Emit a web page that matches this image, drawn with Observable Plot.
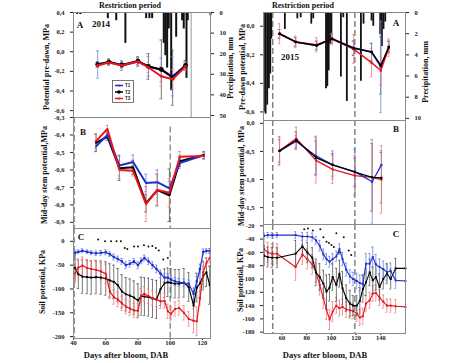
<!DOCTYPE html>
<html><head><meta charset="utf-8">
<script src="https://cdn.jsdelivr.net/npm/d3@7"></script>
<script src="https://cdn.jsdelivr.net/npm/@observablehq/plot@0.6"></script>
<style>
body{margin:0;background:#fff;}
#root{position:relative;width:474px;height:363px;overflow:hidden;font-family:"Liberation Serif",serif;font-weight:bold;color:#111;}
.t{position:absolute;white-space:nowrap;transform:translate(-50%,-50%);line-height:1;}
</style></head>
<body><div id="root"></div>
<script>
// ---------- 2014 (left column) ----------
const days14A = [55, 62, 70, 80, 86.5, 94.5, 101.5, 109.5];
const pd14T1 = [-0.13, -0.105, -0.14, -0.10, -0.15, -0.185, -0.25, -0.14];
const pd14T2 = [-0.13, -0.105, -0.135, -0.095, -0.15, -0.18, -0.265, -0.14];
const pd14T3 = [-0.14, -0.11, -0.14, -0.10, -0.16, -0.25, -0.28, -0.15];
const pd14E1 = [0.14, 0.03, 0.05, 0.05, 0.10, 0.12, 0.20, 0.04];
const pd14E2 = [0.03, 0.03, 0.03, 0.04, 0.13, 0.30, 0.28, 0.05];
const pd14E3 = [0.02, 0.02, 0.02, 0.03, 0.05, 0.10, 0.10, 0.04];

const rain14Day = [42.3, 44.3, 61.3, 66.5, 72.2, 85.1, 87.1, 88.8, 96, 97, 98.1, 99.1, 100.6, 103.7, 107.4, 108.4, 110.1, 110.9, 125];
const rain14mm  = [1, 1, 3, 4, 15, 3, 3, 3, 15, 21, 27, 8, 38, 12, 4, 8, 32, 4, 1.5];

const days14B = [54, 61, 68.5, 77, 85, 92, 99.5, 106, 121];
const md14T1 = [-0.465, -0.40, -0.575, -0.555, -0.675, -0.67, -0.705, -0.56, -0.515];
const md14T2 = [-0.445, -0.41, -0.59, -0.585, -0.79, -0.715, -0.745, -0.55, -0.515];
const md14T3 = [-0.435, -0.365, -0.60, -0.605, -0.795, -0.715, -0.73, -0.525, -0.52];
const md14E1 = [0.03, 0.02, 0.06, 0.04, 0.05, 0.07, 0.04, 0.03, 0.02];
const md14E2 = [0.05, 0.02, 0.07, 0.04, 0.05, 0.09, 0.15, 0.03, 0.02];
const md14E3 = [0.04, 0.02, 0.05, 0.03, 0.10, 0.09, 0.08, 0.03, 0.02];

const days14C = [41, 43, 45.5, 48.5, 51, 54, 57, 60, 62.5, 65, 67.5, 70, 72.5, 75, 77.5, 80, 82, 84, 86.5, 89, 91.5, 94, 96.5, 98.5, 100.5, 103, 105.5, 108.5, 111.5, 114.5, 116.5, 118.5, 120.5, 122.5, 124.5];
const sp14T1 = [-24, -22, -20, -22, -24, -25, -24, -23, -27, -33, -37, -42, -50, -47, -42, -50, -41, -35, -42, -50, -58, -68, -76, -76, -80, -84, -86, -87, -89, -110, -84, -58, -22, -20, -20];
const sp14T2 = [-56, -69, -74, -75, -76, -75, -76, -78, -82, -85, -92, -105, -111, -114, -118, -124, -115, -116, -117, -120, -122, -100, -88, -86, -87, -89, -89, -87, -96, -135, -97, -88, -72, -65, -92];
const sp14T3 = [-67, -55, -51, -56, -58, -60, -63, -68, -105, -117, -122, -130, -137, -141, -145, -146, -114, -110, -115, -119, -122, -126, -125, -147, -152, -142, -140, -150, -163, -167, -168, -120, -65, -45, -35];
const sp14E1 = [5, 4, 4, 4, 4, 5, 5, 5, 5, 6, 6, 6, 7, 7, 6, 7, 6, 6, 7, 7, 8, 8, 8, 8, 8, 8, 8, 8, 8, 12, 10, 10, 6, 5, 5];
const sp14E2 = [28, 30, 35, 35, 35, 35, 35, 35, 35, 35, 35, 35, 35, 35, 35, 35, 40, 40, 40, 40, 40, 35, 30, 30, 30, 30, 30, 30, 30, 30, 30, 30, 30, 30, 40];
const sp14E3 = [20, 18, 18, 18, 18, 18, 18, 20, 15, 15, 15, 15, 15, 15, 15, 15, 15, 15, 15, 15, 15, 15, 15, 15, 15, 15, 15, 15, 15, 25, 30, 15, 12, 10, 10];
const star14Day = [55.3, 59.6, 63.3, 66.7, 69.4, 71.8, 73.4, 77.6, 80, 83.7, 86.5, 88.9, 91.1, 92.9, 95.7, 98.5];
const star14Val = [4, 0, 0, 0, 0, -14, -16, -11, -11, -8, -11, -10, -14, -19, -38, -35];

// ---------- 2015 (right column) ----------
const days15A = [58, 71, 88, 100.5, 118, 132.5, 140, 146.5];
const pd15T1 = [-0.053, -0.11, -0.135, -0.088, -0.15, -0.18, -0.285, -0.145];
const pd15T2 = [-0.053, -0.11, -0.135, -0.088, -0.155, -0.18, -0.275, -0.145];
const pd15T3 = [-0.053, -0.11, -0.13, -0.09, -0.16, -0.255, -0.31, -0.15];
const pd15E1 = [0.03, 0.03, 0.03, 0.03, 0.05, 0.06, 0.32, 0.04];
const pd15E2 = [0.03, 0.03, 0.03, 0.03, 0.05, 0.06, 0.20, 0.04];
const pd15E3 = [0.07, 0.04, 0.05, 0.04, 0.10, 0.10, 0.10, 0.06];

const rain15Day = [45.3, 46.7, 48, 49.4, 50.5, 51.3, 62.3, 72.4, 75.1, 83.7, 85.3, 95.6, 96.7, 97.8, 98.9, 100, 107.7, 109.6, 112.5, 123.9, 126, 132.5, 133.9, 139.5, 140.9, 142.2, 143.6];
const rain15mm  = [9.4, 9.6, 8.75, 7.2, 5.8, 2.5, 1.6, 0.6, 0.5, 1.1, 0.6, 7.2, 7.0, 5.5, 3.0, 2.1, 6.1, 0.5, 8.4, 6.5, 1.1, 0.8, 1.3, 2.1, 3.2, 1.6, 0.9];

const days15B = [58, 71.5, 87.5, 101, 119, 133, 140.5];
const md15T1 = [-0.49, -0.32, -0.58, -0.74, -0.86, -1.04, -0.74];
const md15T2 = [-0.49, -0.30, -0.61, -0.74, -0.87, -0.96, -0.97];
const md15T3 = [-0.49, -0.27, -0.66, -0.82, -0.93, -0.96, -1.00];
const md15E1 = [0.25, 0.10, 0.35, 0.25, 0.40, 0.75, 0.25];
const md15E2 = [0.20, 0.15, 0.30, 0.20, 0.25, 0.60, 0.45];
const md15E3 = [0.25, 0.20, 0.40, 0.25, 0.35, 0.60, 0.60];

const days15C = [45.5, 48.5, 52, 56, 71, 76.5, 80.5, 84.5, 87.5, 90.5, 93.5, 96, 98.5, 101, 104, 106.5, 109, 112, 115, 117.5, 120.5, 123, 125.5, 128, 131, 133.5, 136, 139, 142, 145, 148, 152, 160];
const sp15T1 = [-35, -34, -34, -34, -34, -36, -36, -37, -42, -50, -63, -70, -74, -70, -66, -55, -70, -86, -96, -100, -103, -106, -108, -77, -77, -67, -78, -82, -85, -90, -88, -102, -103];
const sp15T2 = [-65, -67, -68, -68, -62, -51, -60, -68, -90, -97, -107, -119, -113, -97, -109, -92, -114, -129, -137, -140, -140, -133, -115, -105, -90, -102, -97, -112, -100, -92, -100, -84, -84];
const sp15T3 = [-55, -60, -62, -62, -82, -63, -70, -78, -90, -109, -129, -146, -161, -149, -140, -144, -142, -146, -147, -148, -152, -158, -156, -137, -132, -122, -121, -128, -134, -140, -140, -141, -142];
const sp15E1 = [4, 4, 4, 4, 5, 6, 6, 6, 6, 8, 8, 8, 8, 8, 8, 8, 10, 10, 10, 10, 12, 12, 15, 15, 15, 15, 15, 12, 12, 12, 12, 12, 0];
const sp15E2 = [15, 15, 15, 15, 20, 15, 15, 15, 20, 20, 20, 25, 20, 20, 25, 20, 25, 20, 20, 15, 15, 20, 20, 20, 20, 20, 20, 20, 15, 15, 15, 15, 0];
const sp15E3 = [15, 15, 15, 15, 20, 15, 15, 15, 15, 15, 15, 15, 15, 15, 12, 12, 12, 12, 12, 12, 12, 12, 12, 12, 12, 12, 12, 12, 10, 10, 10, 10, 0];
const star15Day = [78, 81, 85, 91, 93.5, 96, 98, 100, 102, 104, 106, 110, 114, 116];
const star15Val = [-25, -24, -27, -25, -37, -44, -46, -49, -52, -31, -60, -37, -57, -64];

// ---------- tick values & labels ----------
const tLA = [0.4, 0.2, 0, -0.2, -0.4, -0.6];
const tLAr = [0, 10, 20, 30, 40, 50];
const tLB = [-0.3, -0.4, -0.5, -0.6, -0.7, -0.8, -0.9];
const tLC = [0, -50, -100, -150, -200];
const tLx = [40, 60, 80, 100, 120];
const tRA = [0, -0.2, -0.4, -0.6];
const tRAr = [0, 2, 4, 6, 8, 10];
const tRB = [0, -0.5, -1.0, -1.5];
const tRC = [-20, -40, -60, -80, -100, -120, -140, -160, -180];
const tRx = [60, 80, 100, 120, 140];
const seriesNames = ["T1", "T2", "T3"];
const restriction14 = [100];
const restriction15 = [52.5, 119];

// ---------- styling ----------
const C = {T1: "#1f2fd0", T2: "#000000", T3: "#e8141e"};
const CE = {T1: "#6f86e0", T2: "#555555", T3: "#f07a7a"};
const fmt1 = d => (Math.abs(d) < 1e-9 ? 0 : d).toFixed(1).replace(".", ",");
const fmt0 = d => String(d);

const root = document.getElementById("root");
const rows = (days, v, e) => days.map((d, i) => ({day: d, v: v[i], e: e[i]}));

function seriesMarks(data, key, o) {
  const out = [];
  const cap = o.cap;
  const dd = data.filter(d => d.e > 0);
  out.push(Plot.ruleX(dd, {x: "day", y1: d => d.v - d.e, y2: d => d.v + d.e, stroke: CE[key], strokeWidth: 0.8}));
  out.push(Plot.ruleY(dd, {y: d => d.v + d.e, x1: d => d.day - cap, x2: d => d.day + cap, stroke: CE[key], strokeWidth: 0.8}));
  out.push(Plot.ruleY(dd, {y: d => d.v - d.e, x1: d => d.day - cap, x2: d => d.day + cap, stroke: CE[key], strokeWidth: 0.8}));
  return out;
}
function lineMarks(data, key, o) {
  return [
    Plot.line(data, {x: "day", y: "v", stroke: C[key], strokeWidth: o.lw}),
    Plot.dot(data, {x: "day", y: "v", r: o.r, fill: C[key], stroke: "none", symbol: o.sym})
  ];
}

function panel(fr, opt) {
  const m = {l: 30, r: 30, t: 4, b: 14};
  const svg = Plot.plot(Object.assign({
    width: fr.w + m.l + m.r, height: fr.h + m.t + m.b,
    marginLeft: m.l, marginRight: m.r, marginTop: m.t, marginBottom: m.b,
    style: {background: "transparent", overflow: "visible", fontFamily: "Liberation Serif, serif",
            fontWeight: "bold", fontSize: "6.5px", color: "#222"}
  }, opt));
  svg.style.position = "absolute";
  svg.style.left = (fr.x - m.l) + "px";
  svg.style.top = (fr.y - m.t) + "px";
  svg.style.maxWidth = "none";
  root.appendChild(svg);
}
function txt(x, y, s, size, rot) {
  const d = document.createElement("div");
  d.className = "t";
  d.textContent = s;
  d.style.left = x + "px"; d.style.top = y + "px"; d.style.fontSize = size + "px";
  if (rot) d.style.transform = "translate(-50%,-50%) rotate(" + rot + "deg)";
  root.appendChild(d);
}

const frameMark = Plot.frame({stroke: "#8a8a8a", strokeWidth: 1});

// ====== LEFT COLUMN (2014) ======
const LA = {x: 73, w: 137, y: 12, h: 105};
const LB = {x: 73, w: 137, y: 117, h: 111};
const LC = {x: 73, w: 137, y: 228, h: 110};
const xL = {domain: [40, 125]};

// precipitation overlay
panel(LA, {
  x: {...xL, axis: null},
  y: {domain: [0, 51], reverse: true, axis: "right", ticks: tLAr, tickFormat: fmt0, tickSize: 3, label: null},
  marks: [
    Plot.ruleX(rows(rain14Day, rain14mm, rain14mm), {x: "day", y1: 0, y2: "v", stroke: "#111", strokeWidth: 2}),
    Plot.ruleX([113], {stroke: "#999", strokeWidth: 1})
  ]
});
const la = {T1: rows(days14A, pd14T1, pd14E1), T2: rows(days14A, pd14T2, pd14E2), T3: rows(days14A, pd14T3, pd14E3)};
panel(LA, {
  x: {...xL, axis: null},
  y: {domain: [-0.67, 0.4], ticks: tLA, tickFormat: fmt1, tickSize: 3, label: null},
  marks: [
    ...seriesMarks(la.T2, "T2", {cap: 0.9}), ...seriesMarks(la.T1, "T1", {cap: 0.9}), ...seriesMarks(la.T3, "T3", {cap: 0.9}),
    ...lineMarks(la.T1, "T1", {lw: 2, r: 1.8, sym: "circle"}),
    ...lineMarks(la.T2, "T2", {lw: 2, r: 2.4, sym: "circle"}),
    ...lineMarks(la.T3, "T3", {lw: 2, r: 1.4, sym: "circle"}),
    frameMark
  ]
});
const lb = {T1: rows(days14B, md14T1, md14E1), T2: rows(days14B, md14T2, md14E2), T3: rows(days14B, md14T3, md14E3)};
panel(LB, {
  x: {...xL, axis: null},
  y: {domain: [-0.935, -0.3], ticks: tLB, tickFormat: fmt1, tickSize: 3, label: null},
  marks: [
    Plot.ruleX(restriction14, {y1: -0.355, y2: -0.935, stroke: "#777", strokeWidth: 1.2, strokeDasharray: "6,3"}),
    Plot.ruleX([40.6], {stroke: "#999", strokeWidth: 1.2, strokeDasharray: "6,3"}),
    ...seriesMarks(lb.T2, "T2", {cap: 0.9}), ...seriesMarks(lb.T1, "T1", {cap: 0.9}), ...seriesMarks(lb.T3, "T3", {cap: 0.9}),
    ...lineMarks(lb.T2, "T2", {lw: 2, r: 0, sym: "circle"}),
    ...lineMarks(lb.T1, "T1", {lw: 2, r: 0, sym: "circle"}),
    ...lineMarks(lb.T3, "T3", {lw: 2, r: 0, sym: "circle"}),
    frameMark
  ]
});
const lc = {T1: rows(days14C, sp14T1, sp14E1), T2: rows(days14C, sp14T2, sp14E2), T3: rows(days14C, sp14T3, sp14E3)};
panel(LC, {
  x: {...xL, ticks: tLx, tickFormat: fmt0, tickSize: 2, tickPadding: 0, label: null},
  y: {domain: [-204, 27], ticks: tLC, tickFormat: fmt0, tickSize: 3, label: null},
  marks: [
    Plot.ruleX(restriction14, {y1: -2, y2: -204, stroke: "#777", strokeWidth: 1.2, strokeDasharray: "6,3"}),
    Plot.ruleX([40.6], {stroke: "#999", strokeWidth: 1.2, strokeDasharray: "6,3"}),
    ...seriesMarks(lc.T2, "T2", {cap: 0.7}), ...seriesMarks(lc.T3, "T3", {cap: 0.7}), ...seriesMarks(lc.T1, "T1", {cap: 0.7}),
    ...lineMarks(lc.T2, "T2", {lw: 1.2, r: 1.1, sym: "square"}),
    ...lineMarks(lc.T3, "T3", {lw: 1.2, r: 1.1, sym: "square"}),
    ...lineMarks(lc.T1, "T1", {lw: 1.2, r: 1.3, sym: "square"}),
    Plot.dot(rows(star14Day, star14Val, star14Val), {x: "day", y: "v", r: 1, fill: "#111", stroke: "none"}),
    frameMark
  ]
});

// ====== RIGHT COLUMN (2015) ======
const RA = {x: 263, w: 142, y: 12, h: 108};
const RB = {x: 263, w: 142, y: 120, h: 104};
const RC = {x: 263, w: 142, y: 224, h: 109};
const xR = {domain: [45, 160]};

panel(RA, {
  x: {...xR, axis: null},
  y: {domain: [0, 10.2], reverse: true, axis: "right", ticks: tRAr, tickFormat: fmt0, tickSize: 3, label: null},
  marks: [
    Plot.ruleX(rows(rain15Day, rain15mm, rain15mm), {x: "day", y1: 0, y2: "v", stroke: "#111", strokeWidth: 1.8})
  ]
});
const ra = {T1: rows(days15A, pd15T1, pd15E1), T2: rows(days15A, pd15T2, pd15E2), T3: rows(days15A, pd15T3, pd15E3)};
panel(RA, {
  x: {...xR, axis: null},
  y: {domain: [-0.66, 0.096], ticks: tRA, tickFormat: fmt1, tickSize: 3, label: null},
  marks: [
    Plot.ruleX(restriction15, {stroke: "#666", strokeWidth: 1.2, strokeDasharray: "6,3"}),
    ...seriesMarks(ra.T2, "T2", {cap: 1}), ...seriesMarks(ra.T1, "T1", {cap: 1}), ...seriesMarks(ra.T3, "T3", {cap: 1}),
    ...lineMarks(ra.T1, "T1", {lw: 1.5, r: 1.3, sym: "square"}),
    ...lineMarks(ra.T3, "T3", {lw: 1.5, r: 1.3, sym: "square"}),
    ...lineMarks(ra.T2, "T2", {lw: 1.5, r: 1.3, sym: "square"}),
    frameMark
  ]
});
const rb = {T1: rows(days15B, md15T1, md15E1), T2: rows(days15B, md15T2, md15E2), T3: rows(days15B, md15T3, md15E3)};
panel(RB, {
  x: {...xR, axis: null},
  y: {domain: [-1.8, 0.05], ticks: tRB, tickFormat: fmt1, tickSize: 3, label: null},
  marks: [
    Plot.ruleX(restriction15, {stroke: "#666", strokeWidth: 1.2, strokeDasharray: "6,3"}),
    ...seriesMarks(rb.T2, "T2", {cap: 1}), ...seriesMarks(rb.T1, "T1", {cap: 1}), ...seriesMarks(rb.T3, "T3", {cap: 1}),
    ...lineMarks(rb.T3, "T3", {lw: 1.3, r: 1.2, sym: "square"}),
    ...lineMarks(rb.T1, "T1", {lw: 1.3, r: 1.2, sym: "square"}),
    ...lineMarks(rb.T2, "T2", {lw: 1.3, r: 1.2, sym: "square"}),
    frameMark
  ]
});
const rc = {T1: rows(days15C, sp15T1, sp15E1), T2: rows(days15C, sp15T2, sp15E2), T3: rows(days15C, sp15T3, sp15E3)};
panel(RC, {
  x: {...xR, ticks: tRx, tickFormat: fmt0, tickSize: 2, tickPadding: 0, label: null},
  y: {domain: [-182, -18], ticks: tRC, tickFormat: fmt0, tickSize: 3, label: null},
  marks: [
    Plot.ruleX(restriction15, {stroke: "#666", strokeWidth: 1.2, strokeDasharray: "6,3"}),
    ...seriesMarks(rc.T3, "T3", {cap: 0.8}), ...seriesMarks(rc.T2, "T2", {cap: 0.8}), ...seriesMarks(rc.T1, "T1", {cap: 0.8}),
    ...lineMarks(rc.T3, "T3", {lw: 1.1, r: 1.1, sym: "square"}),
    ...lineMarks(rc.T2, "T2", {lw: 1.1, r: 1.1, sym: "square"}),
    ...lineMarks(rc.T1, "T1", {lw: 1.1, r: 1.1, sym: "square"}),
    Plot.dot(rows(star15Day, star15Val, star15Val), {x: "day", y: "v", r: 1, fill: "#111", stroke: "none"}),
    frameMark
  ]
});

// ====== text labels ======
txt(130, 6, "Restriction period", 8);
txt(303, 6, "Restriction period", 8);
txt(80, 25, "A", 9); txt(101, 24, "2014", 9);
txt(83, 132, "B", 9);
txt(81, 237, "C", 9);
txt(396, 23, "A", 9); txt(290, 57, "2015", 9);
txt(396, 129, "B", 9);
txt(396, 234, "C", 9);
txt(47, 67, "Potential pre-dawn, MPa", 8, -90);
txt(45, 175, "Mid-day stem potential,MPa", 8, -90);
txt(43, 282, "Soil potential, KPa", 8, -90);
txt(231, 68, "Precipitation, mm", 8, -90);
txt(243, 67, "Pre-dawn potential, MPa", 8, -90);
txt(242, 176, "Mid-day stem potential, MPa", 8, -90);
txt(241, 280, "Soil potential, KPa", 8, -90);
txt(426, 72, "Precipitation, mm", 8, -90);
txt(126, 355, "Days after bloom, DAB", 8.5);
txt(325, 355, "Days after bloom, DAB", 8.5);

// ====== legend (2014 panel A) ======
const lg = document.createElementNS("http://www.w3.org/2000/svg", "svg");
lg.setAttribute("width", 22); lg.setAttribute("height", 23);
lg.style.position = "absolute"; lg.style.left = "112px"; lg.style.top = "80px";
let inner = '<rect x="0.5" y="0.5" width="21" height="22" fill="white" stroke="#555" stroke-width="0.8"/>';
seriesNames.forEach((s, i) => {
  const yy = 5.5 + i * 6.5;
  inner += `<line x1="3" x2="11" y1="${yy}" y2="${yy}" stroke="${C[s]}" stroke-width="1.5"/>`;
  inner += `<circle cx="7" cy="${yy}" r="${s === "T2" ? 1.8 : 1}" fill="${C[s]}"/>`;
  inner += `<text x="13" y="${yy + 1.6}" font-size="4.5" font-family="Liberation Sans, sans-serif" fill="#222">${s}</text>`;
});
lg.innerHTML = inner;
root.appendChild(lg);
</script>
</body></html>
